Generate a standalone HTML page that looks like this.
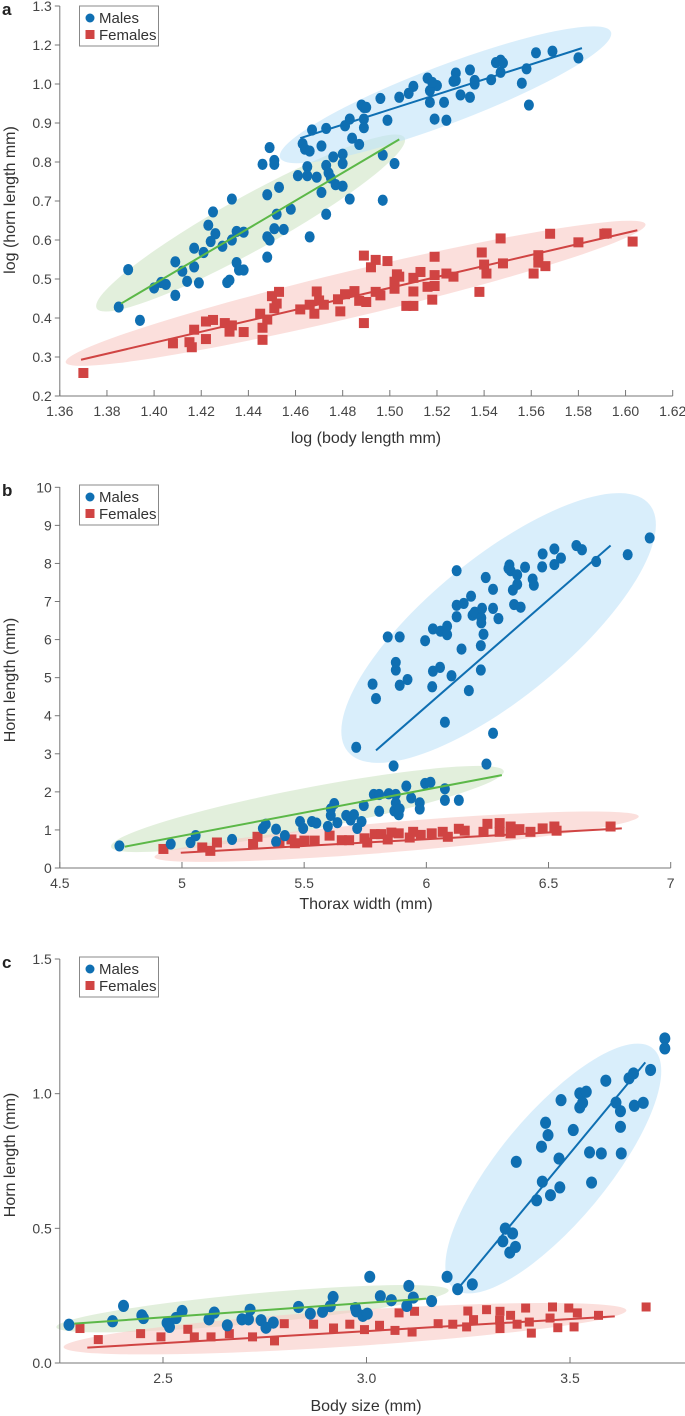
<!DOCTYPE html>
<html><head><meta charset="utf-8">
<style>
html,body{margin:0;padding:0;background:#fff;}
svg{display:block;font-family:"Liberation Sans Narrow","Liberation Sans",sans-serif;}
.tick{font-size:14px;fill:#444;}
.title{font-size:16px;fill:#333;}
</style></head>
<body>
<svg id="chart" width="685" height="1416" viewBox="0 0 685 1416" xmlns="http://www.w3.org/2000/svg"></svg>
<script>
// ---------- Panel a data ----------
const aXTicks = [1.36,1.38,1.40,1.42,1.44,1.46,1.48,1.50,1.52,1.54,1.56,1.58,1.60,1.62];
const aYTickVals = [0.2,0.3,0.4,0.5,0.6,0.7,0.8,0.9,1.0,1.1,1.2];
const aYTickLabels = ['0.2','0.3','0.4','0.5','0.6','0.7','0.8','0.9','1.0','1.2','1.3'];
const aMales = [[1.580,1.067],[1.569,1.084],[1.562,1.080],[1.547,1.061],[1.545,1.055],[1.548,1.054],[1.547,1.030],[1.558,1.039],[1.556,1.002],[1.559,0.946],[1.543,1.011],[1.536,1.000],[1.536,1.009],[1.534,1.036],[1.534,0.966],[1.530,0.972],[1.528,1.028],[1.528,1.009],[1.527,1.007],[1.523,0.953],[1.524,0.907],[1.519,0.910],[1.520,0.996],[1.516,1.015],[1.517,0.983],[1.517,0.953],[1.518,1.004],[1.510,0.994],[1.508,0.976],[1.504,0.966],[1.496,0.963],[1.499,0.907],[1.489,0.940],[1.488,0.946],[1.490,0.940],[1.489,0.910],[1.489,0.888],[1.483,0.910],[1.481,0.893],[1.473,0.886],[1.467,0.882],[1.484,0.861],[1.487,0.845],[1.463,0.847],[1.464,0.833],[1.466,0.828],[1.471,0.841],[1.449,0.837],[1.446,0.794],[1.451,0.804],[1.451,0.794],[1.497,0.818],[1.502,0.796],[1.497,0.702],[1.480,0.820],[1.476,0.813],[1.480,0.796],[1.473,0.791],[1.474,0.772],[1.475,0.759],[1.477,0.742],[1.480,0.738],[1.471,0.722],[1.469,0.761],[1.465,0.788],[1.465,0.765],[1.461,0.765],[1.453,0.735],[1.483,0.705],[1.473,0.666],[1.458,0.679],[1.452,0.666],[1.448,0.716],[1.466,0.608],[1.451,0.629],[1.455,0.627],[1.448,0.608],[1.449,0.600],[1.448,0.556],[1.438,0.620],[1.435,0.622],[1.433,0.600],[1.429,0.584],[1.426,0.616],[1.424,0.596],[1.425,0.672],[1.423,0.638],[1.433,0.705],[1.421,0.568],[1.417,0.579],[1.417,0.531],[1.435,0.542],[1.436,0.523],[1.438,0.523],[1.432,0.497],[1.431,0.491],[1.419,0.490],[1.414,0.494],[1.412,0.520],[1.409,0.544],[1.409,0.458],[1.405,0.486],[1.403,0.491],[1.400,0.477],[1.389,0.524],[1.385,0.428],[1.394,0.394]];
const aFemales = [[1.370,0.259],[1.408,0.335],[1.415,0.338],[1.416,0.325],[1.417,0.370],[1.422,0.346],[1.422,0.391],[1.425,0.395],[1.430,0.387],[1.432,0.365],[1.433,0.381],[1.438,0.364],[1.445,0.411],[1.446,0.375],[1.446,0.344],[1.448,0.396],[1.451,0.425],[1.450,0.456],[1.453,0.467],[1.452,0.437],[1.462,0.422],[1.466,0.434],[1.468,0.411],[1.469,0.468],[1.470,0.445],[1.472,0.434],[1.478,0.448],[1.479,0.417],[1.481,0.461],[1.485,0.469],[1.487,0.444],[1.489,0.560],[1.489,0.387],[1.490,0.441],[1.492,0.530],[1.494,0.549],[1.494,0.467],[1.496,0.458],[1.499,0.546],[1.502,0.493],[1.502,0.475],[1.503,0.512],[1.504,0.506],[1.507,0.431],[1.510,0.431],[1.510,0.468],[1.510,0.503],[1.513,0.518],[1.516,0.480],[1.518,0.447],[1.519,0.557],[1.519,0.510],[1.519,0.482],[1.524,0.514],[1.527,0.506],[1.538,0.467],[1.539,0.568],[1.540,0.537],[1.541,0.514],[1.548,0.540],[1.547,0.604],[1.561,0.514],[1.563,0.561],[1.563,0.542],[1.566,0.533],[1.568,0.616],[1.580,0.594],[1.591,0.616],[1.592,0.617],[1.603,0.596]];
const aLineMales = [[1.462,0.861],[1.5815,1.092]];
const aLineAllo = [[1.386,0.437],[1.504,0.858]];
const aLineFemales = [[1.369,0.293],[1.605,0.625]];

// ---------- Panel b data ----------
const bXTicks = [4.5,5,5.5,6,6.5,7];
const bXTickLabels = ['4.5','5','5.5','6','6.5','7'];
const bYTicks = [0,1,2,3,4,5,6,7,8,9,10];
const bMales = [[4.744,0.58],[4.954,0.63],[5.035,0.67],[5.056,0.85],[5.205,0.75],[5.331,1.04],[5.343,1.15],[5.385,1.02],[5.385,0.69],[5.421,0.85],[5.483,1.22],[5.496,1.04],[5.532,1.22],[5.55,1.18],[5.597,1.09],[5.609,1.38],[5.609,1.55],[5.623,1.69],[5.636,1.19],[5.672,1.38],[5.69,1.26],[5.704,1.40],[5.717,1.04],[5.735,1.22],[5.744,1.64],[5.785,1.93],[5.807,1.93],[5.807,1.49],[5.846,1.95],[5.869,1.50],[5.875,1.71],[5.875,1.93],[5.887,1.40],[5.891,1.55],[5.918,2.15],[5.938,1.84],[5.973,1.71],[5.973,1.55],[5.995,2.22],[6.017,2.25],[6.076,2.08],[6.076,1.78],[6.133,1.78],[5.866,2.68],[6.246,2.73],[6.273,3.54],[5.713,3.17],[6.076,3.83],[5.794,4.45],[5.78,4.83],[5.875,5.20],[5.875,5.40],[5.891,4.80],[5.923,4.95],[6.024,4.76],[6.027,5.17],[6.056,5.27],[6.103,5.05],[6.174,4.66],[5.842,6.07],[5.891,6.07],[5.995,5.97],[6.027,6.28],[6.058,6.22],[6.085,6.35],[6.085,6.13],[6.144,5.75],[6.124,6.60],[6.124,6.90],[6.153,6.95],[6.183,7.14],[6.189,6.64],[6.198,6.72],[6.225,6.57],[6.225,6.44],[6.223,5.84],[6.223,5.20],[6.234,6.14],[6.228,6.82],[6.273,6.82],[6.273,7.32],[6.295,6.55],[6.243,7.63],[6.124,7.81],[6.34,7.96],[6.345,7.81],[6.354,7.30],[6.359,6.92],[6.372,7.70],[6.386,6.85],[6.404,7.90],[6.435,7.59],[6.44,7.43],[6.476,8.25],[6.474,7.91],[6.524,8.38],[6.524,7.97],[6.551,8.14],[6.614,8.47],[6.637,8.36],[6.695,8.05],[6.824,8.23],[6.914,8.67],[6.336,7.87],[6.372,7.45]];
const bFemales = [[4.924,0.50],[5.083,0.54],[5.116,0.45],[5.143,0.67],[5.291,0.63],[5.309,0.82],[5.399,0.67],[5.448,0.75],[5.462,0.65],[5.501,0.72],[5.543,0.72],[5.604,0.85],[5.654,0.73],[5.684,0.73],[5.747,0.78],[5.758,0.67],[5.789,0.89],[5.815,0.89],[5.842,0.75],[5.857,0.93],[5.887,0.91],[5.932,0.80],[5.946,0.95],[5.977,0.87],[6.022,0.91],[6.067,0.95],[6.088,0.82],[6.133,1.03],[6.157,0.98],[6.234,0.95],[6.25,1.16],[6.30,1.18],[6.30,0.95],[6.345,1.09],[6.345,0.91],[6.381,1.02],[6.426,0.95],[6.476,1.04],[6.524,1.09],[6.533,0.98],[6.754,1.09]];
const bLineMales = [[5.794,3.09],[6.754,8.47]];
const bLineAllo = [[4.766,0.56],[6.309,2.44]];
const bLineFemales = [[4.995,0.40],[6.80,1.04]];

// ---------- Panel c data ----------
const cXTicks = [2.5,3.0,3.5];
const cXTickLabels = ['2.5','3.0','3.5'];
const cYTicks = [0,0.5,1.0,1.5];
const cYTickLabels = ['0.0','0.5','1.0','1.5'];
const cMales = [[2.269,0.142],[2.376,0.155],[2.403,0.212],[2.448,0.177],[2.452,0.167],[2.510,0.149],[2.516,0.134],[2.532,0.167],[2.547,0.193],[2.613,0.162],[2.626,0.187],[2.658,0.140],[2.694,0.162],[2.71,0.162],[2.714,0.198],[2.741,0.159],[2.753,0.131],[2.771,0.150],[2.833,0.208],[2.862,0.183],[2.892,0.190],[2.911,0.211],[2.918,0.245],[2.973,0.204],[2.975,0.192],[2.991,0.175],[3.002,0.183],[3.008,0.320],[3.034,0.248],[3.061,0.233],[3.099,0.212],[3.104,0.286],[3.115,0.243],[3.16,0.230],[3.198,0.320],[3.224,0.274],[3.26,0.292],[3.335,0.452],[3.341,0.499],[3.352,0.410],[3.359,0.481],[3.366,0.431],[3.368,0.747],[3.418,0.604],[3.432,0.673],[3.430,0.803],[3.44,0.892],[3.446,0.846],[3.452,0.623],[3.475,0.652],[3.473,0.759],[3.478,0.976],[3.524,0.949],[3.524,1.001],[3.531,0.966],[3.540,1.007],[3.508,0.865],[3.548,0.782],[3.553,0.670],[3.577,0.778],[3.588,1.048],[3.613,0.967],[3.624,0.935],[3.624,0.877],[3.626,0.778],[3.645,1.057],[3.656,1.075],[3.658,0.955],[3.680,0.966],[3.698,1.088],[3.733,1.205],[3.733,1.168]];
const cFemales = [[2.296,0.128],[2.341,0.087],[2.445,0.109],[2.495,0.097],[2.561,0.125],[2.577,0.097],[2.618,0.097],[2.663,0.109],[2.72,0.097],[2.774,0.082],[2.798,0.146],[2.87,0.144],[2.919,0.130],[2.959,0.144],[2.995,0.124],[3.032,0.140],[3.07,0.121],[3.08,0.186],[3.112,0.115],[3.118,0.192],[3.176,0.146],[3.212,0.144],[3.246,0.134],[3.249,0.193],[3.263,0.161],[3.295,0.198],[3.327,0.159],[3.328,0.192],[3.328,0.128],[3.354,0.177],[3.37,0.144],[3.391,0.204],[3.40,0.152],[3.405,0.111],[3.451,0.167],[3.457,0.208],[3.47,0.131],[3.497,0.204],[3.51,0.134],[3.518,0.186],[3.57,0.177],[3.687,0.208]];
const cLineMales = [[3.228,0.282],[3.685,1.116]];
const cLineAllo = [[2.282,0.146],[3.147,0.239]];
const cLineFemales = [[2.314,0.057],[3.610,0.173]];

const NS = 'http://www.w3.org/2000/svg';
const svg = document.getElementById('chart');
const BLUE = '#0f6fb2', RED = '#d04443', GREEN = '#5cb848';

function mk(tag, attrs, parent) {
  const e = document.createElementNS(NS, tag);
  for (const k in attrs) e.setAttribute(k, attrs[k]);
  (parent || svg).appendChild(e);
  return e;
}
function lin(d0, d1, r0, r1) { return v => r0 + (v - d0) / (d1 - d0) * (r1 - r0); }

function panel(p) {
  const g = mk('g', {});
  
  
  const X = p.x, Y = p.y;
  // ellipses
  p.ellipses.forEach(el => {
    const e = mk('ellipse', {cx: el[0], cy: el[1], rx: el[2], ry: el[3], transform: 'rotate(' + el[4] + ' ' + el[0] + ' ' + el[1] + ')', fill: el[5], 'fill-opacity': el[6]}, g);
    
    
  });
  // axes
  const ax = mk('line', {x1: p.left, y1: p.bottom, x2: p.right, y2: p.bottom, stroke: '#777', 'stroke-width': 1}, g);
  
  
  const ay = mk('line', {x1: p.left, y1: p.top, x2: p.left, y2: p.bottom, stroke: '#777', 'stroke-width': 1}, g);
  
  
  p.xTicks.forEach((v, i) => {
    const px = X(v);
    const t = mk('line', {x1: px, y1: p.bottom, x2: px, y2: p.bottom - 6, stroke: '#777'}, g);
    
    
    const tx = mk('text', {x: px, y: p.bottom + 20, 'text-anchor': 'middle', class: 'tick'}, g);
    tx.textContent = p.xLabels[i];
    
    
  });
  p.yTicks.forEach((v, i) => {
    const py = Y(v);
    const t = mk('line', {x1: p.left - 5, y1: py, x2: p.left, y2: py, stroke: '#777'}, g);
    
    
    const tx = mk('text', {x: p.left - 8, y: py + 5, 'text-anchor': 'end', class: 'tick'}, g);
    tx.textContent = p.yLabels[i];
    
    
  });
  // points
  p.females.forEach(d => {
    const s = p.sq;
    const r = mk('rect', {x: X(d[0]) - s / 2, y: Y(d[1]) - s / 2, width: s, height: s, fill: RED}, g);
    
    
  });
  p.males.forEach(d => {
    const c = mk('ellipse', {cx: X(d[0]), cy: Y(d[1]), rx: p.r, ry: p.r + 0.6, fill: BLUE}, g);
    
    
  });
  // regression lines
  [[p.lineAllo, GREEN, 'allometry-fit-line'], [p.lineMales, BLUE, 'males-fit-line'], [p.lineFemales, RED, 'females-fit-line']].forEach(L => {
    const l = mk('line', {x1: X(L[0][0][0]), y1: Y(L[0][0][1]), x2: X(L[0][1][0]), y2: Y(L[0][1][1]), stroke: L[1], 'stroke-width': 2}, g);
    
    
  });
  // panel letter
  const pl = mk('text', {x: 2, y: p.top + 9, 'font-size': 17, 'font-weight': 'bold', fill: '#222', 'font-family': 'Liberation Sans, sans-serif'}, g);
  pl.textContent = p.id;
  
  
  // titles
  const xt = mk('text', {x: p.xTitlePos[0], y: p.xTitlePos[1], 'text-anchor': 'middle', class: 'title'}, g);
  xt.textContent = p.xTitle;
  
  
  const yt = mk('text', {x: 0, y: 0, 'text-anchor': 'middle', class: 'title', transform: 'translate(' + p.yTitlePos[0] + ',' + p.yTitlePos[1] + ') rotate(-90)'}, g);
  yt.textContent = p.yTitle;
  
  
  // legend
  const lg = mk('g', {}, g);
  
  
  const ly = p.legendY;
  mk('rect', {x: 79.5, y: ly, width: 79, height: 40, fill: '#fff', stroke: '#888', 'stroke-width': 1}, lg);
  const m1 = mk('circle', {cx: 90, cy: ly + 12, r: 4.5, fill: BLUE}, lg);
  
  
  const t1 = mk('text', {x: 99, y: ly + 17, 'font-size': 15, fill: '#333'}, lg);
  t1.textContent = 'Males';
  
  
  const m2 = mk('rect', {x: 85.5, y: ly + 24, width: 9, height: 9, fill: RED}, lg);
  
  
  const t2 = mk('text', {x: 99, y: ly + 34, 'font-size': 15, fill: '#333'}, lg);
  t2.textContent = 'Females';
  
  
}

panel({
  id: 'a', left: 59.8, right: 672.7, top: 6, bottom: 396,
  x: lin(1.36, 1.62, 59.8, 672.7), y: lin(0.2, 1.2, 396, 6),
  xTicks: aXTicks, xLabels: aXTicks.map(v => v.toFixed(2)),
  yTicks: aYTickVals, yLabels: aYTickLabels,
  males: aMales, females: aFemales, r: 5, sq: 10,
  lineMales: aLineMales, lineAllo: aLineAllo, lineFemales: aLineFemales,
  ellipses: [
    [355.6, 293.3, 298, 23, -13.4, '#f8c9c4', 0.6, 'females-ellipse'],
    [250.6, 223, 176, 27, -29, '#cfe5c4', 0.6, 'allometry-ellipse'],
    [445.5, 94.8, 177, 29, -20.8, '#bfe2f8', 0.6, 'males-ellipse']
  ],
  xTitle: 'log (body length mm)', xTitlePos: [366, 443],
  yTitle: 'log (horn length mm)', yTitlePos: [15, 200], legendY: 6
});

panel({
  id: 'b', left: 59.8, right: 670.7, top: 487, bottom: 868,
  x: lin(4.5, 7, 59.8, 670.7), y: lin(0, 10, 868, 487.3),
  xTicks: bXTicks, xLabels: bXTickLabels,
  yTicks: bYTicks, yLabels: bYTicks.map(String),
  males: bMales, females: bFemales, r: 5, sq: 10,
  lineMales: bLineMales, lineAllo: bLineAllo, lineFemales: bLineFemales,
  ellipses: [
    [307.4, 809, 200, 21, -10.9, '#cfe5c4', 0.6, 'allometry-ellipse'],
    [396.6, 836.7, 243, 15, -4.8, '#f8c9c4', 0.6, 'females-ellipse'],
    [498.6, 628, 195, 70, -39.3, '#bfe2f8', 0.6, 'males-ellipse']
  ],
  xTitle: 'Thorax width (mm)', xTitlePos: [366, 909],
  yTitle: 'Horn length (mm)', yTitlePos: [15, 680], legendY: 485
});

panel({
  id: 'c', left: 59.8, right: 685, top: 959, bottom: 1363,
  x: lin(2.5, 3.5, 163, 570), y: lin(0, 1.5, 1363, 959),
  xTicks: cXTicks, xLabels: cXTickLabels,
  yTicks: cYTicks, yLabels: cYTickLabels,
  males: cMales, females: cFemales, r: 5.5, sq: 9,
  lineMales: cLineMales, lineAllo: cLineAllo, lineFemales: cLineFemales,
  ellipses: [
    [252.5, 1308.7, 197, 15, -5.35, '#cfe5c4', 0.6, 'allometry-ellipse'],
    [345, 1328.7, 282, 18, -3.74, '#f8c9c4', 0.6, 'females-ellipse'],
    [553.3, 1168.5, 156, 54, -50.3, '#bfe2f8', 0.6, 'males-ellipse']
  ],
  xTitle: 'Body size (mm)', xTitlePos: [366, 1411],
  yTitle: 'Horn length (mm)', yTitlePos: [15, 1155], legendY: 957
});
</script>
</body></html>
